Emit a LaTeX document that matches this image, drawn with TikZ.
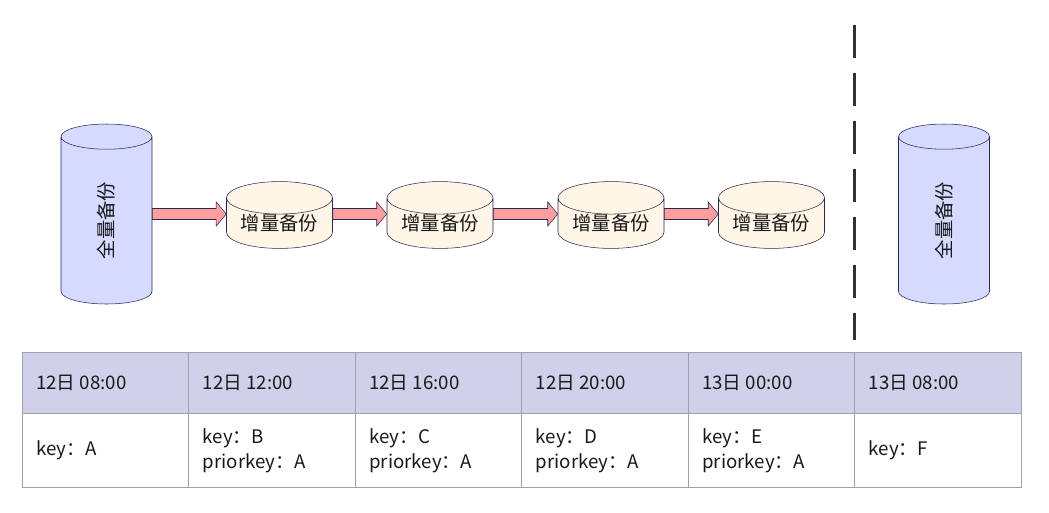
\documentclass[tikz,border=0pt]{standalone}
\usepackage{fontspec}
\setmainfont{Noto Sans CJK SC}
\usetikzlibrary{shapes.geometric,calc}
\definecolor{fullfill}{RGB}{214,218,255}
\definecolor{incfill}{RGB}{255,246,232}
\definecolor{cylline}{RGB}{40,40,80}
\definecolor{arrfill}{RGB}{255,158,158}
\definecolor{headfill}{RGB}{208,208,234}
\definecolor{gridcol}{RGB}{160,160,170}
\definecolor{txt}{RGB}{25,25,25}
\tikzset{
  fullbak/.style={cylinder,draw=cylline,fill=fullfill,rotate=90,anchor=shape center,
    minimum width=68.25pt,minimum height=135pt,aspect=1.4,inner sep=0pt,
    font=\fontsize{14.5pt}{16pt}\selectfont,text=txt},
  incbak/.style={cylinder,draw=cylline,fill=incfill,shape border rotate=90,anchor=shape center,
    minimum width=79.5pt,minimum height=48pt,aspect=0.42,inner sep=0pt,
    font=\fontsize{14.5pt}{16pt}\selectfont,text=txt},
  blockarr/.style={draw=cylline,fill=arrfill,line join=miter},
  cell/.style={anchor=west,align=left,inner sep=0pt,text=txt,
    font=\fontsize{14pt}{18.75pt}\selectfont},
  gridline/.style={draw=gridcol,line width=0.75pt}
}
\begin{document}
\begin{tikzpicture}[x=0.75pt,y=-0.75pt]
  \useasboundingbox (0,0) rectangle (1049,512);

  % backups
  \node[fullbak] (full1) at (106.5,214) {全量备份};
  \node[fullbak] (full2) at (944,214) {全量备份};
  \foreach \x [count=\i] in {279.5,440,611,771.5}
    \node[incbak] (inc\i) at (\x,215) {增量备份};

  % arrows
  \foreach \a/\s/\b in {full1/south/inc1,inc1/east/inc2,inc2/east/inc3,inc3/east/inc4}{
    \coordinate (from) at (\a.shape center -| \a.\s);
    \coordinate (to) at ($(\b.shape center -| \b.west)+(0,-1)$);
    \draw[blockarr] ($(from |- to)+(0,-5.5)$) -- ($(to)+(-10,-5.5)$) -- ($(to)+(-10,-12)$)
      -- (to) -- ($(to)+(-10,12)$) -- ($(to)+(-10,5.5)$) -- ($(from |- to)+(0,5.5)$) -- cycle;
  }

  % cut line
  \coordinate (cuttop) at (854.5,25);
  \coordinate (cutbot) at (854.5,340);
  \draw[line width=1.6pt,color=black!80,dash pattern=on 24.75pt off 11.25pt] (cuttop) -- (cutbot);

  % table
  \fill[headfill] (22,352) rectangle (1021,413);
  \draw[gridline] (22,352) rectangle (1021,487);
  \draw[gridline] (22,413) -- (1021,413);
  \foreach \i in {1,...,5}
    \draw[gridline] (22+\i*166.5,352) -- (22+\i*166.5,487);
  \foreach \t [count=\i] in {12日 08:00,12日 12:00,12日 16:00,12日 20:00,13日 00:00,13日 08:00}
    \node[cell] (time\i) at (36+\i*166.5-166.5,383) {\t};
  \foreach \t [count=\i] in {{key：A},{key：B\\priorkey：A},{key：C\\priorkey：A},
      {key：D\\priorkey：A},{key：E\\priorkey：A},{key：F}}
    \node[cell] (key\i) at (36+\i*166.5-166.5,450.5) {\t};
\end{tikzpicture}
\end{document}
